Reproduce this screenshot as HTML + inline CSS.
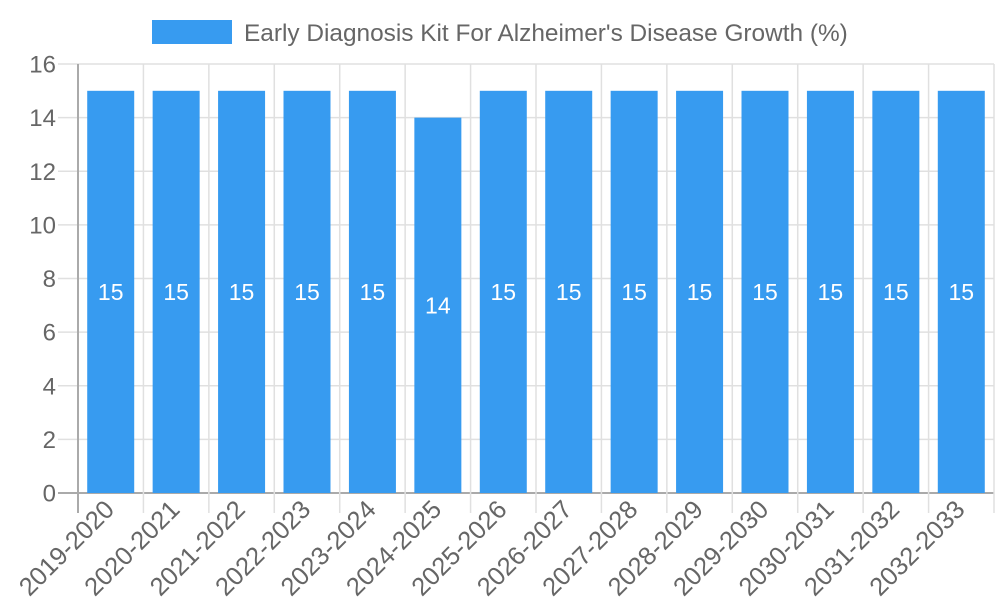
<!DOCTYPE html>
<html><head><meta charset="utf-8"><style>
html,body{margin:0;padding:0;background:#fff;}
svg{display:block;font-family:"Liberation Sans",sans-serif;}
</style></head><body>
<svg id="chart" width="1000" height="600">
  <rect x="152" y="20" width="80" height="24" fill="#379bf0"></rect>
  <text x="244" y="41" font-size="24.4" fill="#666">Early Diagnosis Kit For Alzheimer's Disease Growth (%)</text>
  <g id="grid"></g><g id="bars"></g><g id="labels"></g>
</svg>
<script>
const categories=["2019-2020","2020-2021","2021-2022","2022-2023","2023-2024","2024-2025","2025-2026","2026-2027","2027-2028","2028-2029","2029-2030","2030-2031","2031-2032","2032-2033"];
const growthValues=[15,15,15,15,15,14,15,15,15,15,15,15,15,15];
const yTicks=[0,2,4,6,8,10,12,14,16];
const NS="http://www.w3.org/2000/svg";
const L=78,R=994,T=64,B=493,yMax=16;
const bw=(R-L)/categories.length;
const y=v=>B-(v/yMax)*(B-T);
const x=i=>L+i*bw;
function mk(t,a,p){const e=document.createElementNS(NS,t);for(const k in a)e.setAttribute(k,a[k]);p.appendChild(e);return e;}
const grid=document.getElementById('grid'),bars=document.getElementById('bars'),labels=document.getElementById('labels');
yTicks.forEach(v=>{
  const ln=mk('line',{x1:58,x2:R,y1:y(v),y2:y(v),stroke:v===0?'#aaa':'#e0e0e0','stroke-width':v===0?2:1.5},grid);
  
  
  const t=mk('text',{x:56,y:y(v)+8.5,'text-anchor':'end','font-size':24,fill:'#666'},grid);
  t.textContent=v;
  
  
});
for(let i=0;i<=categories.length;i++){
  const ln=mk('line',{x1:x(i),x2:x(i),y1:T,y2:B+20,stroke:i===0?'#aaa':'#e0e0e0','stroke-width':i===0?2:1.5},grid);
  
  
}
categories.forEach((c,i)=>{
  const cx=x(i)+bw/2,v=growthValues[i];
  const r=mk('rect',{x:cx-23.5,y:y(v),width:47,height:B-y(v),fill:'#379bf0'},bars);
  
  
  const vl=mk('text',{x:cx,y:(y(v)+B)/2+8,'text-anchor':'middle','font-size':23,fill:'#fff'},labels);
  vl.textContent=v;
  
  
  const xl=mk('text',{x:cx+5,y:B+18,'text-anchor':'end','font-size':25.5,fill:'#666',transform:`rotate(-45 ${cx+5} ${B+18})`},labels);
  xl.textContent=c;
  
  
});
</script>
</body></html>
